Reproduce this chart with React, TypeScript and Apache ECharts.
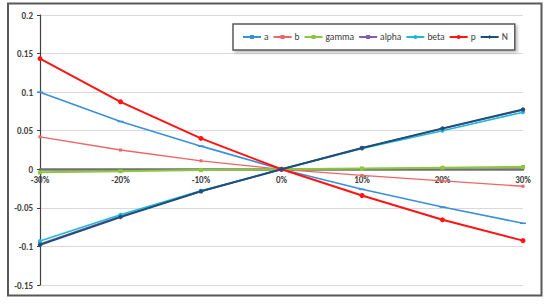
import React, { useEffect, useRef } from "react";
import * as echarts from "echarts";

const categories = ["-30%", "-20%", "-10%", "0%", "10%", "20%", "30%"];
const seriesNames = ["a", "b", "gamma", "alpha", "beta", "p", "N"];
const aValues = [0.1, 0.062, 0.03, 0, -0.026, -0.049, -0.07];
const bValues = [0.042, 0.025, 0.011, 0, -0.008, -0.015, -0.022];
const gammaValues = [-0.004, -0.0025, -0.001, 0, 0.001, 0.002, 0.003];
const alphaValues = [-0.097, -0.061, -0.0285, 0, 0.0275, 0.0525, 0.077];
const betaValues = [-0.093, -0.059, -0.028, 0, 0.027, 0.05, 0.074];
const pValues = [0.1435, 0.0875, 0.04, 0, -0.034, -0.0655, -0.0925];
const nValues = [-0.098, -0.062, -0.0285, 0, 0.0277, 0.053, 0.0775];
const yTicks = { min: -0.15, max: 0.2, interval: 0.05 };

const colors = ["#3a8fd9", "#f06466", "#8dc63f", "#7f5fa8", "#1fb8d8", "#ff1414", "#1f4e79"];
const symbols = ["rect", "rect", "rect", "rect", "circle", "circle", "diamond"];
const symbolSizes = [[6, 1.5], 3, 4, 4, 4, 5, 5];
const widths = [1.6, 1.3, 2, 1.6, 1.6, 2, 2];

export default function App() {
  const ref = useRef<HTMLDivElement>(null);
  useEffect(() => {
    const chart = echarts.init(ref.current!, null, { renderer: "svg" });
    const data = [aValues, bValues, gammaValues, alphaValues, betaValues, pValues, nValues];
    const font = "Carlito, 'Liberation Sans', sans-serif";
    const plotTop = 15;
    const plotBottom = 285;
    const zeroOffset =
      ((0 - yTicks.min) / (yTicks.max - yTicks.min)) * (plotBottom - plotTop);
    chart.setOption({
      animation: false,
      backgroundColor: "#ffffff",
      grid: { left: 40, right: 27, top: plotTop, bottom: 304 - plotBottom, containLabel: false },
      graphic: [
        {
          type: "rect",
          shape: { x: 8, y: 3.5, width: 533.5, height: 292 },
          style: { fill: "none", stroke: "#595959", lineWidth: 2 },
          z: 0,
        },
      ],
      legend: {
        data: seriesNames,
        left: 233,
        top: 24,
        width: 290,
        padding: [8, 7, 8, 9],
        itemWidth: 18,
        itemHeight: 5,
        itemGap: 4,
        borderColor: "#595959",
        borderWidth: 1.5,
        backgroundColor: "#ffffff",
        shadowColor: "rgba(0,0,0,0.25)",
        shadowBlur: 3,
        shadowOffsetX: 2,
        shadowOffsetY: 2,
        textStyle: { fontFamily: font, fontSize: 9.5, color: "#404040", padding: [0, 0, 0, -2] },
      },
      xAxis: [
        {
          type: "category",
          data: categories,
          boundaryGap: false,
          axisLine: { onZero: true, lineStyle: { color: "#707070", width: 2.5 } },
          axisTick: { show: false },
          axisLabel: { show: false },
          splitLine: { show: false },
        },
        {
          type: "category",
          data: categories,
          boundaryGap: false,
          position: "bottom",
          offset: -zeroOffset,
          axisLine: { show: false, onZero: false },
          axisTick: { show: false },
          axisLabel: {
            fontFamily: font,
            fontSize: 9,
            fontWeight: "bold",
            color: "#404040",
            margin: 6,
          },
          splitLine: { show: false },
        },
      ],
      yAxis: {
        type: "value",
        min: yTicks.min,
        max: yTicks.max,
        interval: yTicks.interval,
        axisLine: { show: true, onZero: false, lineStyle: { color: "#404040", width: 1.2 } },
        axisTick: { show: true, length: 3, lineStyle: { color: "#404040" } },
        axisLabel: {
          fontFamily: font,
          fontSize: 9,
          fontWeight: "bold",
          color: "#404040",
          margin: 7,
          formatter: (v: number) => String(Number(v.toFixed(2))),
        },
        splitLine: { show: true, lineStyle: { color: "#d9d9d9", width: 1 } },
      },
      series: seriesNames.map((name, i) => ({
        name,
        type: "line",
        xAxisIndex: 0,
        data: data[i],
        color: colors[i],
        symbol: symbols[i],
        symbolSize: symbolSizes[i],
        showSymbol: true,
        lineStyle: { width: widths[i], color: colors[i] },
        itemStyle: { color: colors[i] },
        z: 2 + i,
      })),
    });
    return () => chart.dispose();
  }, []);
  return (
    <div
      ref={ref}
      style={{ position: "fixed", left: 0, top: 0, width: 550, height: 304 }}
    />
  );
}
